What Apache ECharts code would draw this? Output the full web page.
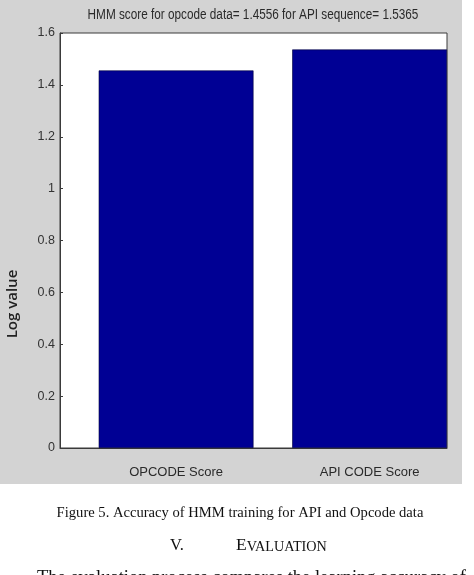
<!DOCTYPE html>
<html>
<head>
<meta charset="utf-8">
<script src="https://cdn.jsdelivr.net/npm/echarts@6/dist/echarts.min.js"></script>
<style>
html,body{margin:0;padding:0;background:#fff;}
#c{width:474px;height:575px;}
</style>
</head>
<body>
<div id="c"></div>
<script>
const categories = ['OPCODE Score', 'API CODE Score'];
const scores = [1.4556, 1.5365];
const yTicks = [0, 0.2, 0.4, 0.6, 0.8, 1, 1.2, 1.4, 1.6];
const chartTitle = 'HMM score for opcode data= 1.4556 for API sequence= 1.5365';
const yName = 'Log value';
const caption = 'Figure 5. Accuracy of HMM training for API and Opcode data';
const bodyText = 'The evaluation process compares the learning accuracy of';

const sans = '"Liberation Sans",Arial,sans-serif';
const serif = '"Liberation Serif","Times New Roman",serif';
const chart = echarts.init(document.getElementById('c'), null, {renderer: 'canvas'});
chart.setOption({
  backgroundColor: '#fff',
  animation: false,
  graphic: [
    {type: 'rect', z: -10, silent: true, shape: {x: 0, y: 0, width: 462, height: 484}, style: {fill: '#d3d3d3'}},
    {type: 'text', x: 253, y: 15, scaleX: 0.84, style: {text: chartTitle, font: '14px ' + sans, fill: '#2a2a2a', align: 'center', verticalAlign: 'middle'}},
    {type: 'text', x: 13, y: 304, rotation: Math.PI / 2, style: {text: yName, font: '600 15px "Open Sans",sans-serif', fill: '#222', align: 'center', verticalAlign: 'middle'}},
    {type: 'text', x: 240, y: 513, style: {text: caption, font: '14.6px ' + serif, fill: '#111', align: 'center', verticalAlign: 'middle'}},
    {type: 'text', x: 170, y: 546, style: {text: 'V.', font: '16.5px ' + serif, fill: '#111', align: 'left', verticalAlign: 'middle'}},
    {type: 'text', x: 236, y: 545, style: {text: '{a|E}{b|VALUATION}', align: 'left', verticalAlign: 'middle',
      rich: {a: {font: '17.5px ' + serif, fill: '#111', verticalAlign: 'bottom'}, b: {font: '14.2px ' + serif, fill: '#111', verticalAlign: 'bottom'}}}},
    {type: 'text', x: 37, y: 569, style: {text: bodyText, font: '18.5px ' + serif, fill: '#111', align: 'left', verticalAlign: 'top'}}
  ],
  grid: {left: 60, right: 27, top: 33, bottom: 127, show: true, backgroundColor: '#fff', borderColor: '#3a3a3a', borderWidth: 1},
  xAxis: {
    type: 'value', min: 0.4, max: 2.4,
    splitLine: {show: false},
    axisTick: {show: false},
    axisLine: {show: true, lineStyle: {color: '#3a3a3a', width: 1}},
    axisLabel: {
      customValues: categories.map((c, i) => i + 1),
      formatter: v => categories[Math.round(v) - 1] || '',
      margin: 18, fontSize: 13, fontFamily: sans, color: '#2a2a2a'
    }
  },
  yAxis: {
    type: 'value', min: 0, max: 1.6, interval: 0.2,
    splitLine: {show: false},
    axisLine: {show: true, lineStyle: {color: '#3a3a3a', width: 1}},
    axisTick: {show: true, inside: true, length: 3, lineStyle: {color: '#3a3a3a'}},
    axisLabel: {
      customValues: yTicks,
      formatter: v => String(Math.round(v * 10) / 10),
      margin: 5, fontSize: 12.5, fontFamily: sans, color: '#333'
    }
  },
  series: [{
    type: 'bar',
    data: scores.map((v, i) => [i + 1, v]),
    barWidth: '80%',
    itemStyle: {color: '#000094', borderColor: '#00003a', borderWidth: 0.6}
  }]
});
</script>
</body>
</html>
